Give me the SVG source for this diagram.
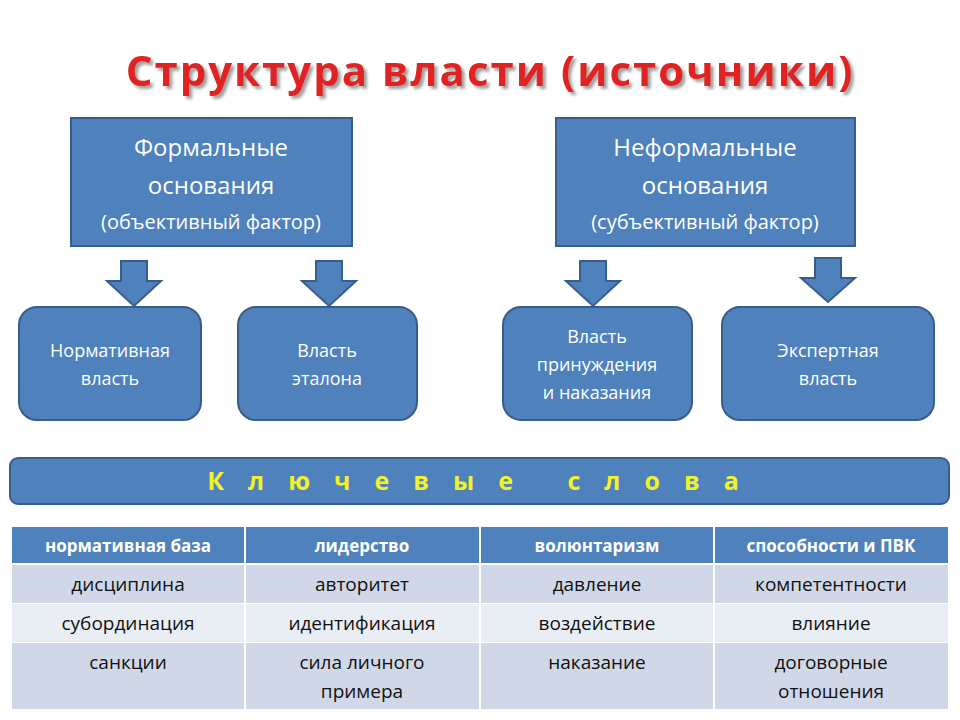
<svg xmlns="http://www.w3.org/2000/svg" width="960" height="720" viewBox="0 0 960 720">
<defs>
<filter id="sh" x="-5%" y="-20%" width="110%" height="150%"><feDropShadow dx="3" dy="3" stdDeviation="1.5" flood-color="#888" flood-opacity="0.8"/></filter>
<style>
.box{fill:#4F81BD;stroke:#385D8A;stroke-width:2}
.t{font-family:"Open Sans","DejaVu Sans",sans-serif;fill:#fff;text-anchor:middle}
.big{font-size:24px}
.mid{font-size:20px}
.sm{font-size:18px}
.arr{fill:#4F81BD;stroke:#385D8A;stroke-width:2}
.cell{font-family:"Open Sans","DejaVu Sans",sans-serif;font-size:19px;fill:#111;text-anchor:middle}
.hd{font-family:"Open Sans","DejaVu Sans",sans-serif;font-size:17px;font-weight:bold;fill:#fff;text-anchor:middle}
</style>
</defs>
<rect width="960" height="720" fill="#fff"/>
<g id="title">
<text x="490" y="86" filter="url(#sh)" font-family="'Open Sans','DejaVu Sans',sans-serif" font-size="42" font-weight="bold" fill="#E02020" text-anchor="middle" letter-spacing="2">Структура власти (источники)</text>
</g>
<g id="formal"><rect class="box" x="71" y="118" width="281" height="128"/>
<text class="t big" x="211" y="156">Формальные</text><text class="t big" x="211" y="194">основания</text><text class="t mid" x="211" y="229">(объективный фактор)</text></g>
<g id="informal"><rect class="box" x="556" y="118" width="299" height="128"/>
<text class="t big" x="705" y="156">Неформальные</text><text class="t big" x="705" y="194">основания</text><text class="t mid" x="705" y="229">(субъективный фактор)</text></g>
<g id="connectors">
<path class="arr" d="M121,261 H147 V281 H161 L134,306 L107,281 H121 Z"/>
<path class="arr" d="M316,261 H342 V281 H356 L329,306 L302,281 H316 Z"/>
<path class="arr" d="M580,261 H606 V281 H620 L593,306 L566,281 H580 Z"/>
<path class="arr" d="M815,258 H841 V278 H855 L828,302 L801,278 H815 Z"/>
</g>
<g id="normative"><rect class="box" x="19" y="307" width="182" height="113" rx="18"/>
<text class="t sm" x="110" y="357">Нормативная</text><text class="t sm" x="110" y="385">власть</text></g>
<g id="etalon"><rect class="box" x="238" y="307" width="179" height="113" rx="18"/>
<text class="t sm" x="327" y="357">Власть</text><text class="t sm" x="327" y="385">эталона</text></g>
<g id="coercion"><rect class="box" x="503" y="307" width="189" height="113" rx="18"/>
<text class="t sm" x="597" y="343">Власть</text><text class="t sm" x="597" y="371">принуждения</text><text class="t sm" x="597" y="399">и наказания</text></g>
<g id="expert"><rect class="box" x="722" y="307" width="212" height="113" rx="18"/>
<text class="t sm" x="828" y="357">Экспертная</text><text class="t sm" x="828" y="385">власть</text></g>
<g id="banner"><rect class="box" x="10" y="458" width="939" height="46" rx="8"/>
<text x="485" y="490" font-family="'Open Sans','DejaVu Sans',sans-serif" font-size="25" font-weight="bold" fill="#F2F22A" text-anchor="middle" letter-spacing="24">Ключевые  слова</text></g>
<g id="table">
<rect x="12" y="527" width="936" height="36" fill="#4F81BD"/>
<rect x="12" y="565" width="936" height="38" fill="#D0D8E8"/>
<rect x="12" y="604" width="936" height="38" fill="#E9EDF4"/>
<rect x="12" y="643" width="936" height="66" fill="#D0D8E8"/>
<g stroke="#fff" stroke-width="2"><line x1="245" y1="527" x2="245" y2="709"/><line x1="480" y1="527" x2="480" y2="709"/><line x1="714" y1="527" x2="714" y2="709"/><line x1="12" y1="564" x2="948" y2="564"/></g>
<text class="hd" x="128" y="552">нормативная база</text><text class="hd" x="362" y="552">лидерство</text><text class="hd" x="597" y="552">волюнтаризм</text><text class="hd" x="831" y="552">способности и ПВК</text>
<text class="cell" x="128" y="591">дисциплина</text><text class="cell" x="362" y="591">авторитет</text><text class="cell" x="597" y="591">давление</text><text class="cell" x="831" y="591">компетентности</text>
<text class="cell" x="128" y="630">субординация</text><text class="cell" x="362" y="630">идентификация</text><text class="cell" x="597" y="630">воздействие</text><text class="cell" x="831" y="630">влияние</text>
<text class="cell" x="128" y="669">санкции</text><text class="cell" x="362" y="669">сила личного</text><text class="cell" x="362" y="698">примера</text><text class="cell" x="597" y="669">наказание</text><text class="cell" x="831" y="669">договорные</text><text class="cell" x="831" y="698">отношения</text>
</g>
</svg>
